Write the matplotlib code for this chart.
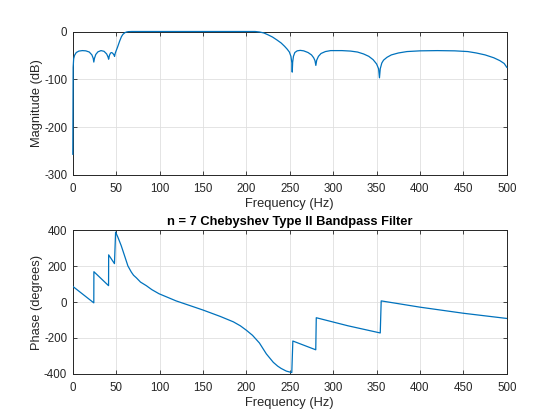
import numpy as np
import matplotlib
matplotlib.use("Agg")
import matplotlib.pyplot as plt

# magnitude response (Hz, dB)
mag_freq = [0, 0.4, 1, 2, 4, 7, 11, 15, 19, 22, 23.5, 24.2, 25, 26.5, 29, 32.5, 36, 39,
            40.5, 41.3, 42.2, 43.5, 44.8, 46.2, 47.4, 48.1, 48.8, 50, 51.5, 54, 56, 57.7,
            60, 62, 64, 68, 210, 215, 220, 225, 230, 235, 240, 244, 247, 249.5, 251.3,
            252.4, 252.8, 253.3, 254.2, 255.8, 258.5, 262, 266, 271, 275, 277.5, 279, 280,
            281, 283, 286, 291, 297, 310, 320, 328, 335, 341, 346, 350, 352.3, 353.3, 354.2,
            356, 358, 362, 367, 375, 385, 400, 420, 440, 455, 465, 475, 485, 492, 497, 500]
mag_db = [-257, -75, -57, -50, -44, -41, -40, -40.5, -43, -49, -56, -64, -56, -48, -42.5,
          -40, -41.5, -47, -53, -58, -50, -45, -44, -46, -49, -52, -46, -40, -33, -20, -11,
          -6, -2.5, -1, -0.3, 0, 0, -1, -3, -7, -11.5, -17.5, -24, -31, -37, -43, -52, -66,
          -85, -64, -52, -44, -40.5, -39.5, -40.5, -44, -49, -55, -61, -71, -60, -52, -46,
          -42, -40, -40, -41, -43, -47, -52, -59, -68, -78, -97, -78, -66, -60, -54, -49,
          -45, -42, -40.5, -40, -40.5, -42, -45, -49, -55, -61, -67, -75]

# phase response (Hz, degrees)
ph_freq = [0, 24.2, 24.3, 41.2, 41.3, 48.0, 49.3, 51.9, 55.8, 59.7, 63.5, 67.4, 70, 73.2,
           78, 84.7, 91, 99.3, 119, 150, 170, 185, 193, 200, 207, 215, 223, 231, 236, 240,
           246, 252.3, 253.5, 279.9, 280.5, 317, 354.2, 355.3, 400, 450, 500]
ph_deg = [88, -4, 170, 92, 264, 215, 391, 363, 315, 258, 202, 168, 150, 136, 112, 92, 70,
          47, 7, -44, -80, -110, -132, -157, -185, -228, -289, -336, -357, -370, -385, -393,
          -217, -266, -87, -132, -172, 7, -28, -62, -91]

plt.rcParams['font.family'] = ['Liberation Sans', 'DejaVu Sans']
plt.rcParams['axes.unicode_minus'] = False

txt = '#262626'
line_col = '#0072BD'
fs = 8.3
lfs = 9.3

fig = plt.figure(figsize=(5.6, 4.2), dpi=100)
ax1 = fig.add_axes([0.13, 0.5838, 0.775, 0.3412])
ax2 = fig.add_axes([0.13, 0.11, 0.775, 0.3412])


def style(ax, yticks):
    ax.set_xlim(0, 500)
    ax.set_xticks(np.arange(0, 501, 50))
    ax.set_yticks(yticks)
    ax.set_ylim(yticks[0], yticks[-1])
    ax.grid(True, color='#dfdfdf', linewidth=0.6)
    ax.set_axisbelow(True)
    for s in ax.spines.values():
        s.set_color(txt)
        s.set_linewidth(0.7)
    ax.tick_params(direction='in', length=3, width=0.6, colors=txt, labelsize=fs,
                   top=True, right=True)
    ax.tick_params(axis='x', pad=6)
    ax.tick_params(axis='y', pad=4)


ax1.plot(mag_freq, mag_db, color=line_col, linewidth=0.9, zorder=3, clip_on=False)
style(ax1, [-300, -200, -100, 0])
ax1.set_xlabel('Frequency (Hz)', fontsize=lfs, color=txt, labelpad=2)
ax1.set_ylabel('Magnitude (dB)', fontsize=lfs, color=txt, labelpad=1)

ax2.plot(ph_freq, ph_deg, color=line_col, linewidth=0.9, zorder=3)
style(ax2, [-400, -200, 0, 200, 400])
ax2.set_xlabel('Frequency (Hz)', fontsize=lfs, color=txt, labelpad=2)
ax2.set_ylabel('Phase (degrees)', fontsize=lfs, color=txt, labelpad=1)
ax2.set_title('n = 7 Chebyshev Type II Bandpass Filter', fontsize=9.3,
              fontweight='bold', color='black', pad=4)

fig.savefig('out.png', dpi=100)
